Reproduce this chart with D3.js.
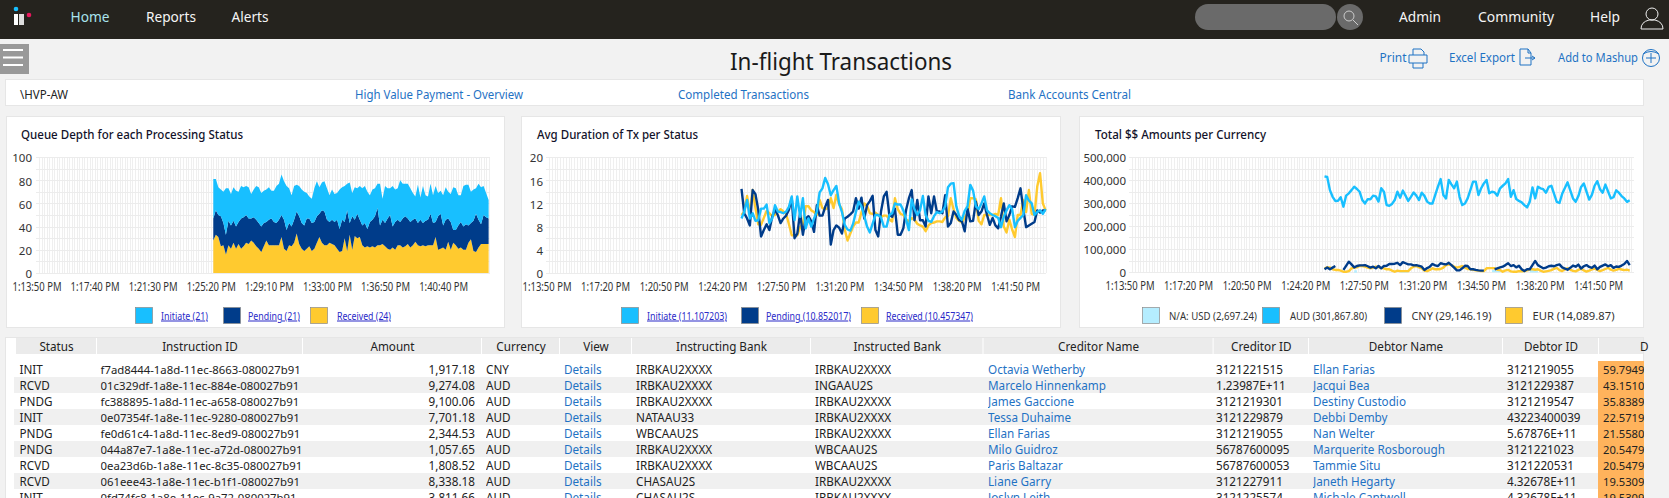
<!DOCTYPE html>
<html><head><meta charset="utf-8">
<script src="https://cdn.jsdelivr.net/npm/d3@7/dist/d3.min.js"></script>
<style>
html,body{margin:0;padding:0;background:#f2f2f2;overflow:hidden}
svg{display:block;font-family:"Noto Sans",sans-serif}
</style></head><body>
<script>
// ---- chart data ----
const queueInitiate=[34,27,24,23,27,40,28,27,29,31,26,28,26,25,27,21,24,29,31,29,28,28,28,24,27,32,31,35,33,38,30,27,29,23,26,29,29,22,19,21,29,30,23,24,26,27,23,26,24,23,34,28,31,23,35,20,28,22,29,32,32,32,23,26,24,21,36,18,32,26,23,35,28,27,36,30,28,30,29,23,19,33,19,32,22,20,26,24,31,20,20,26,28,23,24,37,36,26,23,35,34,35,27,27,22,31,32,25,21,16];
const queuePending=[19,21,19,26,19,17,21,20,19,19,19,26,25,24,22,19,22,23,22,22,20,16,22,23,20,19,22,19,25,18,19,17,20,19,24,22,22,26,24,24,23,23,20,28,29,22,18,21,20,25,20,27,14,35,10,29,14,21,15,17,21,15,22,23,27,32,17,21,20,26,30,18,24,22,20,25,26,22,22,22,20,19,23,19,22,22,27,19,13,29,30,19,26,20,24,11,13,20,22,20,22,15,14,26,33,24,17,25,23,22];
const queueReceived=[28,33,31,23,24,16,24,21,26,21,25,21,23,26,25,28,26,23,21,18,23,28,24,24,24,24,24,31,21,19,24,23,26,34,25,21,19,21,23,19,21,26,31,26,24,24,26,25,24,21,18,19,30,19,33,20,32,30,31,24,22,23,22,23,22,24,24,25,23,21,20,22,20,24,24,22,23,25,22,24,27,24,23,24,23,24,24,24,31,20,21,22,20,27,20,26,24,21,22,20,20,26,29,19,18,22,25,25,25,25];

const durInitiate=[9.4,10.6,12.6,9.4,10.3,9,9.1,11.1,11.1,11.8,8.6,9.4,11.7,10.6,10.5,10.3,10.6,11.4,13.2,9.1,13.2,9.7,12.9,7.7,9.4,8,9.4,10.6,13.9,14.6,16.4,15.3,13.4,14.3,15,12,10.5,8.3,7.5,7.3,8.5,10.5,12.3,11.5,9.8,8,7,8.5,10,10,9.6,8,8,10,10.3,12,11.8,11.8,10.8,9.2,7.4,12.7,11,10,10.8,13.3,10,9,8.8,9.8,10.5,10.3,10.6,11.5,14.8,15.4,15.5,11.5,9.8,9.2,10.7,11.5,15.2,14.2,11.5,11,12,13.2,10.8,10.3,10,9.8,9.5,7.9,9.7,10.8,11.7,11,7.9,9,9.5,10,13.4,12.5,12,10,10.5,10.8,10.2,11];
const durPending=[14.5,10.3,9.4,8.2,14.3,13.6,10.9,6.3,7.4,8.4,7.4,9.7,10.9,10,8.6,9.4,9.9,10.9,12.9,6,6.8,10.3,6.6,9.4,9.8,8.9,7.1,11.7,9.9,9.9,11.4,12.6,4.9,7.4,8.2,7.8,6.8,9.4,9.7,10.1,10.6,12.9,11.1,13,9.4,11.7,12.4,13.3,7.4,6.3,10.6,13.2,14,10,9.7,11.1,6.6,6.6,7.7,10.9,12.9,14.3,9.1,12.6,9.1,9.1,8,13.2,10.3,13.2,10.6,10.6,10.3,13.4,8,8.6,10.6,10,9.1,8.9,7.2,11.1,8.9,9,12.3,10,10.6,12,10,8.3,9.5,8.2,7.7,9.7,12,8.9,10,11.5,11.4,12.9,14.6,11,7.9,8.2,8.5,8.8,10.8,10.4,10.8,10.8];
const durReceived=[10,10.6,13.3,10.2,14.3,11.2,8.4,8.3,9.5,10.7,10.3,9.8,10,10.5,11,10.6,10.2,8.4,6.5,6.5,6.5,7.9,8.5,11.5,11.5,10.8,10.5,10,12.6,11.2,11,11.2,12.9,11.2,13.5,11.8,11,7.5,5.6,6.8,8,8.7,8.7,10.5,12,11.6,10.3,10.2,10.4,10,9.6,9.9,9.9,9.2,8.9,12.9,11,10.2,10,9.2,8.9,9.5,9.2,8.5,8.2,8,7.2,8.2,8.6,8.7,8.9,8.9,8.8,9.6,9.8,12.9,11,9.5,9,8.7,9.6,10.2,12.9,12.9,12.7,9,8.4,10,10,10,10,10.2,10,12.9,8,7,9.2,7.5,6.2,10,10,12.6,10.5,14.3,10.2,10,14.9,17.2,12,10.8];

const amtUSD=[null,null,null,null,null,null,null,null,null,null,null,2500,2500,null,null,null,null,null,null,null,null,null,null,null,null,null,null,null,3000,3000,3000,3000,null,null,null,null,null,null,null,null,null,null,null,null,null,null,null,null,null,null,null,null,null,null,null,null,null,null,null,null,null,null,4000,4000,4000,4000,null,null,null,null,null,null,null,null,null,null,3000,3000,3000,3000];
const amtAUD=[416,413,356,327,309,310,325,284,332,342,356,371,361,349,313,298,317,316,332,329,306,364,349,291,288,296,313,349,323,354,332,309,327,346,332,313,345,331,306,298,298,335,371,404,335,320,400,381,364,393,327,291,298,320,356,393,393,335,364,385,400,342,349,346,332,364,375,385,404,327,356,317,309,303,291,281,306,368,320,371,364,360,345,370,375,340,305,300,340,365,390,355,320,305,330,370,385,350,315,335,375,395,360,345,380,350,320,325,355,345,330,320,305,312].map(v=>v*1000);
const amtCNY=[12,20,12,19,26,null,null,9,27,45,33,20,26,29,29,30,25,19,23,16,26,16,26,27,35,35,36,40,30,43,38,33,33,29,30,27,23,9,17,23,35,29,26,38,35,33,40,30,19,7,7,16,27,26,12,12,9,7,6,6,null,null,null,12,16,20,23,30,38,26,30,20,27,12,4,12,12,30,48,30,23,16,19,25,27,25,30,33,20,15,10,18,28,23,32,15,25,30,22,18,28,12,22,28,33,25,30,18,24,22,28,35,48,30].map(v=>v===null?null:v*1000);
const amtEUR=[16,20,20,12,9,9,6,1,1,4,16,19,20,27,26,23,19,16,19,23,22,17,16,12,12,6,1,6,4,4,4,4,16,23,26,20,16,6,4,9,16,12,12,13,19,30,33,30,23,19,22,26,19,13,13,9,7,6,4,4,16,17,17,16,10,9,1,7,9,3,1,1,4,3,4,7,12,12,10,12,6,1,3,5,8,14,18,8,4,12,16,10,5,3,9,14,7,2,6,11,15,9,4,8,13,18,10,6,9,14,11,8,10,6].map(v=>v*1000);

const ticks1=["1:13:50 PM","1:17:40 PM","1:21:30 PM","1:25:20 PM","1:29:10 PM","1:33:00 PM","1:36:50 PM","1:40:40 PM"];
const ticks2=["1:13:50 PM","1:17:20 PM","1:20:50 PM","1:24:20 PM","1:27:50 PM","1:31:20 PM","1:34:50 PM","1:38:20 PM","1:41:50 PM"];
const yTicksQueue=[0,20,40,60,80,100];
const yTicksDuration=[0,4,8,12,16,20];
const yTicksAmount=[0,100000,200000,300000,400000,500000];

// ---- table data ----
const colHeaders=["Status","Instruction ID","Amount","Currency","View","Instructing Bank","Instructed Bank","Creditor Name","Creditor ID","Debtor Name","Debtor ID","D"];
const statuses=["INIT","RCVD","PNDG","INIT","PNDG","PNDG","RCVD","RCVD","INIT"];
const instrIds=["f7ad8444-1a8d-11ec-8663-080027b91","01c329df-1a8e-11ec-884e-080027b91","fc388895-1a8d-11ec-a658-080027b91","0e07354f-1a8e-11ec-9280-080027b91","fe0d61c4-1a8d-11ec-8ed9-080027b91","044a87e7-1a8e-11ec-a72d-080027b91","0ea23d6b-1a8e-11ec-8c35-080027b91","061eee43-1a8e-11ec-b1f1-080027b91","0fd74fc8-1a8e-11ec-9a72-080027b91"];
const amounts=["1,917.18","9,274.08","9,100.06","7,701.18","2,344.53","1,057.65","1,808.52","8,338.18","3,811.66"];
const currencies=["CNY","AUD","AUD","AUD","AUD","AUD","AUD","AUD","AUD"];
const views=statuses.map(()=>"Details");
const instructing=["IRBKAU2XXXX","IRBKAU2XXXX","IRBKAU2XXXX","NATAAU33","WBCAAU2S","IRBKAU2XXXX","IRBKAU2XXXX","CHASAU2S","CHASAU2S"];
const instructed=["IRBKAU2XXXX","INGAAU2S","IRBKAU2XXXX","IRBKAU2XXXX","IRBKAU2XXXX","WBCAAU2S","WBCAAU2S","IRBKAU2XXXX","IRBKAU2XXXX"];
const creditors=["Octavia Wetherby","Marcelo Hinnenkamp","James Gaccione","Tessa Duhaime","Ellan Farias","Milo Guidroz","Paris Baltazar","Liane Garry","Joslyn Leith"];
const creditorIds=["3121221515","1.23987E+11","3121219301","3121229879","3121219055","56787600095","56787600053","3121227911","3121225574"];
const debtors=["Ellan Farias","Jacqui Bea","Destiny Custodio","Debbi Demby","Nan Welter","Marquerite Rosborough","Tammie Situ","Janeth Hegarty","Michale Cantwell"];
const debtorIds=["3121219055","3121229387","3121219547","43223400039","5.67876E+11","3121221023","3121220531","4.32678E+11","4.32678E+11"];
const durations=["59.7949","43.1510","35.8389","22.5719","21.5580","20.5479","20.5479","19.5309","19.5309"];

// ---- style constants ----
const LIGHT="#18bfff",DARK="#003c8a",YEL="#ffca2f",PALE="#b5edff",LINK="#1f72c4",INK="#222";
const W=1669,H=498;
const svg=d3.select("body").append("svg").attr("width",W).attr("height",H);
svg.append("rect").attr("width",W).attr("height",H).attr("fill","#f2f2f2");

function txt(p,x,y,s,o={}){
  const t=p.append("text").attr("x",x).attr("y",y).attr("dy",".35em").text(s)
    .attr("font-size",o.size||12).attr("fill",o.fill||INK).attr("text-anchor",o.anchor||"start");
  if(o.weight)t.attr("font-weight",o.weight);
  if(o.under)t.attr("text-decoration","underline");
  if(o.len)t.attr("textLength",o.len).attr("lengthAdjust","spacingAndGlyphs");
  return t;
}
function card(x0,y0,x1,y1){
  svg.append("rect").attr("x",x0+.5).attr("y",y0+.5).attr("width",x1-x0-1).attr("height",y1-y0-1)
    .attr("fill","#fff").attr("stroke","#e6e6e6");
}

// ---- header ----
svg.append("rect").attr("width",W).attr("height",39).attr("fill","#25231e");
svg.append("rect").attr("x",14).attr("y",14).attr("width",4).attr("height",11).attr("fill","#fff");
svg.append("rect").attr("x",19).attr("y",14).attr("width",5).attr("height",11).attr("fill","#ddd");
svg.append("circle").attr("cx",16).attr("cy",9).attr("r",2.3).attr("fill","#18bfff");
svg.append("circle").attr("cx",29).attr("cy",15).attr("r",2.3).attr("fill","#e8175d");
txt(svg,90,17,"Home",{size:15,anchor:"middle",fill:"#a9e4ee",len:39});
txt(svg,171,17,"Reports",{size:15,anchor:"middle",fill:"#f5f5f5",len:50});
txt(svg,250,17,"Alerts",{size:15,anchor:"middle",fill:"#f5f5f5",len:37});
svg.append("rect").attr("x",1195).attr("y",4).attr("width",141).attr("height",26).attr("rx",13).attr("fill","#6a6a6a");
svg.append("circle").attr("cx",1350).attr("cy",17).attr("r",13).attr("fill","#6a6a6a");
svg.append("circle").attr("cx",1349).attr("cy",16).attr("r",5).attr("fill","none").attr("stroke","#ccc");
svg.append("line").attr("x1",1353).attr("y1",20).attr("x2",1358).attr("y2",25).attr("stroke","#ccc");
txt(svg,1420,17,"Admin",{size:15,anchor:"middle",fill:"#f5f5f5",len:42});
txt(svg,1516,17,"Community",{size:15,anchor:"middle",fill:"#f5f5f5",len:76});
txt(svg,1605,17,"Help",{size:15,anchor:"middle",fill:"#f5f5f5",len:30});
svg.append("circle").attr("cx",1652).attr("cy",14).attr("r",6).attr("fill","none").attr("stroke","#eee");
svg.append("path").attr("d","M1641,29 q0,-7 8,-9 h6 q8,2 8,9 l-2,0 h-18z").attr("fill","none").attr("stroke","#eee");

// ---- toolbar ----
svg.append("rect").attr("x",0).attr("y",44).attr("width",29).attr("height",30).attr("fill","#999");
[50,57.5,65].forEach(y=>svg.append("rect").attr("x",3).attr("y",y-1).attr("width",20).attr("height",2).attr("fill","#fff"));
txt(svg,841,62,"In-flight Transactions",{size:24,anchor:"middle",fill:"#1a1a1a",len:222});
txt(svg,1379.5,57,"Print",{size:13,fill:LINK,len:27});
txt(svg,1449,57,"Excel Export",{size:13,fill:LINK,len:66});
txt(svg,1558,57,"Add to Mashup",{size:13,fill:LINK,len:80});
const ic=svg.append("g").attr("fill","none").attr("stroke",LINK);
ic.append("path").attr("d","M1413,55 v-6 h8 l3,3 v3 M1409,55 h18 v8 h-18z M1413,63 v5 h10 v-5");
ic.append("path").attr("d","M1520,49 h8 l3,4 v12 h-11z M1528,49 v4 h3 M1525,58 h10 l-3,-2 m3,2 l-3,2");
ic.append("circle").attr("cx",1651).attr("cy",58).attr("r",8.5);
ic.append("path").attr("d","M1646,58 h10 M1651,53 v10 M1643,54 q8,-5 16,0");

// ---- link bar ----
card(5,79,1644,106);
txt(svg,20,95,"\\HVP-AW",{size:12.5,fill:INK,len:48});
txt(svg,355,95,"High Value Payment - Overview",{size:12.5,fill:LINK,len:168});
txt(svg,678,95,"Completed Transactions",{size:12.5,fill:LINK,len:131});
txt(svg,1008,95,"Bank Accounts Central",{size:12.5,fill:LINK,len:123});

// ---- charts ----
const t0=new Date(2021,8,20,13,13,50);
const dataStart=new Date(2021,8,20,13,25,20);
const fmtT=d3.timeFormat("%-I:%M:%S %p");
const parseTick=s=>{const m=s.match(/(\d+):(\d+):(\d+)/);return new Date(2021,8,20,12+(+m[1]),+m[2],+m[3]);};
const atIdx=(i,step)=>new Date(+dataStart+i*step*1000);

function frame(o){
  card(o.cx0,116,o.cx1,328);
  txt(svg,o.titleX,134.5,o.title,{size:12.5,weight:500,fill:"#12122a",len:o.titleLen});
  const g=svg.append("g");
  const t1=new Date(+t0+(o.x1-o.x0)/o.px10*10000);
  const x=d3.scaleTime().domain([t0,t1]).range([o.x0,o.x1]);
  const y=d3.scaleLinear().domain([0,o.ymax]).range([o.y0,157]);
  const gv=g.append("g").attr("stroke","#efefef");
  gv.selectAll("line").data(d3.timeSecond.range(t0,t1,10)).join("line")
    .attr("x1",d=>Math.round(x(d))+.5).attr("x2",d=>Math.round(x(d))+.5).attr("y1",157).attr("y2",o.y0);
  const gh=g.append("g").attr("stroke","#ececec");
  gh.selectAll("line").data(y.ticks(10)).join("line")
    .attr("x1",o.x0-3).attr("x2",o.x1).attr("y1",d=>Math.round(y(d))+.5).attr("y2",d=>Math.round(y(d))+.5);
  const ax=g.append("g").attr("transform",`translate(0,${o.y0})`)
    .call(d3.axisBottom(x).tickValues(o.ticks.map(parseTick)).tickFormat(fmtT).tickSize(0).tickPadding(0));
  ax.select(".domain").remove();
  ax.selectAll("text").attr("font-family",'"Noto Sans",sans-serif').attr("font-size",12).attr("fill","#333")
    .attr("dx",-2.5).attr("y",14).attr("dy",".35em").attr("textLength",49).attr("lengthAdjust","spacingAndGlyphs");
  const ay=g.append("g").attr("transform",`translate(${o.labelX},1.2)`)
    .call(d3.axisLeft(y).tickValues(o.yTicks).tickFormat(o.yfmt||d3.format("d")).tickSize(0).tickPadding(0));
  ay.select(".domain").remove();
  ay.selectAll("text").attr("font-family",'"Noto Sans",sans-serif').attr("font-size",11.5).attr("fill","#333");
  return {x,y,g:svg.append("g")};
}
function legend(items){
  items.forEach(it=>{
    svg.append("rect").attr("x",it.sx+.5).attr("y",307.5).attr("width",17).attr("height",16)
      .attr("fill",it.color).attr("stroke","#8a8a8a").attr("stroke-width",.7);
    txt(svg,it.tx,316,it.label,{size:10,fill:it.under?"#2a2ac8":"#333",under:it.under,len:it.len});
  });
}

// chart 1: stacked area
{
  const o={cx0:6,cx1:505,title:"Queue Depth for each Processing Status",titleX:21,titleLen:222,x0:39,x1:490,px10:2.526,y0:273,ymax:100,labelX:32,ticks:ticks1,yTicks:yTicksQueue};
  const {x,y,g}=frame(o);
  const rows=queueReceived.map((r,i)=>({i,Received:r,Pending:queuePending[i],Initiate:queueInitiate[i]}));
  const stack=d3.stack().keys(["Received","Pending","Initiate"])(rows);
  const area=d3.area().x(d=>x(atIdx(d.data.i,10))).y0(d=>y(d[0])).y1(d=>y(d[1]));
  const col={Received:YEL,Pending:DARK,Initiate:LIGHT};
  g.selectAll("path").data(stack).join("path").attr("d",area).attr("fill",d=>col[d.key]);
  legend([{sx:135,tx:161,label:"Initiate (21)",color:LIGHT,under:1,len:47},
          {sx:223,tx:248,label:"Pending (21)",color:DARK,under:1,len:52},
          {sx:310,tx:337,label:"Received (24)",color:YEL,under:1,len:54}]);
}
function lines(c,series,step){
  const line=d3.line().defined(d=>d!==null).x((d,i)=>c.x(atIdx(i,step))).y(d=>c.y(d));
  series.forEach(s=>c.g.append("path").attr("d",line(s.values)).attr("fill","none")
    .attr("stroke",s.color).attr("stroke-width",s.w||2.4).attr("stroke-linejoin","round"));
}
// chart 2
{
  const c=frame({cx0:521,cx1:1061,title:"Avg Duration of Tx per Status",titleX:537,titleLen:161,x0:549,x1:1046,px10:2.79,y0:273,ymax:20,labelX:543,ticks:ticks2,yTicks:yTicksDuration});
  lines(c,[{values:durReceived,color:YEL},{values:durPending,color:DARK},{values:durInitiate,color:LIGHT}],10);
  legend([{sx:621,tx:647,label:"Initiate (11.107203)",color:LIGHT,under:1,len:80},
          {sx:741,tx:766,label:"Pending (10.852017)",color:DARK,under:1,len:85},
          {sx:861,tx:886,label:"Received (10.457347)",color:YEL,under:1,len:87}]);
}
// chart 3
{
  const c=frame({cx0:1079,cx1:1644,title:"Total $$ Amounts per Currency",titleX:1095,titleLen:171,x0:1132,x1:1634,px10:2.79,y0:272,ymax:500000,labelX:1126,ticks:ticks2,yTicks:yTicksAmount,yfmt:d3.format(",")});
  lines(c,[{values:amtUSD,color:PALE},{values:amtAUD,color:LIGHT},{values:amtEUR,color:YEL},{values:amtCNY,color:DARK}],9.68);
  legend([{sx:1142,tx:1169,label:"N/A: USD (2,697.24)",color:PALE,len:88},
          {sx:1262,tx:1290,label:"AUD (301,867.80)",color:LIGHT,len:77},
          {sx:1384,tx:1411.5,label:"CNY (29,146.19)",color:DARK,len:80},
          {sx:1505,tx:1532.5,label:"EUR (14,089.87)",color:YEL,len:82}]);
}

// ---- table ----
card(5,337,1644,499);
const edges=[16,97,303,482,560,632,811,983.5,1213.6,1309,1503,1599,1644];
const tab=svg.append("g");
tab.selectAll("rect.h").data(colHeaders).join("rect").attr("class","h")
  .attr("x",(d,i)=>edges[i]).attr("y",338).attr("width",(d,i)=>edges[i+1]-edges[i]-1).attr("height",16).attr("fill","#ebebeb");
tab.selectAll("text.h").data(colHeaders).join("text").attr("class","h")
  .attr("x",(d,i)=>i===11?1640:(edges[i]+edges[i+1])/2).attr("y",346.7).attr("dy",".35em").attr("text-anchor",(d,i)=>i===11?"start":"middle")
  .attr("font-size",11.7).attr("fill",INK).text(d=>d);
const rowY=i=>369+16*i;
tab.selectAll("rect.band").data(statuses).join("rect").attr("class","band")
  .attr("x",14).attr("width",1630).attr("y",(d,i)=>rowY(i)-8).attr("height",16)
  .attr("fill",(d,i)=>i%2?"#f0f0f0":"#fff");
const defs=svg.append("defs");
const columns=[
 {v:statuses,x:19.5,e:97},{v:instrIds,x:100.5,e:303,size:11.35},{v:amounts,x:475,e:482,anchor:"end"},{v:currencies,x:486,e:560},
 {v:views,x:564,e:632,fill:LINK},{v:instructing,x:636,e:811},{v:instructed,x:815,e:983},
 {v:creditors,x:988,e:1213,fill:LINK},{v:creditorIds,x:1216,e:1309},{v:debtors,x:1313,e:1503,fill:LINK},{v:debtorIds,x:1507,e:1598}];
tab.append("rect").attr("x",1598).attr("y",361).attr("width",46).attr("height",137).attr("fill","#ffb35c");
columns.push({v:durations,x:1603,e:1644,size:11.2});
columns.forEach((c,k)=>{
  const id="clip"+k;
  defs.append("clipPath").attr("id",id).append("rect").attr("x",c.anchor?c.x-100:c.x).attr("y",330).attr("width",c.anchor?100:c.e-c.x).attr("height",170);
  tab.append("g").attr("clip-path",`url(#${id})`).selectAll("text").data(c.v).join("text")
    .attr("x",c.x).attr("y",(d,i)=>rowY(i)+.7).attr("dy",".35em").attr("text-anchor",c.anchor||"start")
    .attr("font-size",c.size||11.7).attr("fill",c.fill||INK).text(d=>d);
});
</script>
</body></html>
